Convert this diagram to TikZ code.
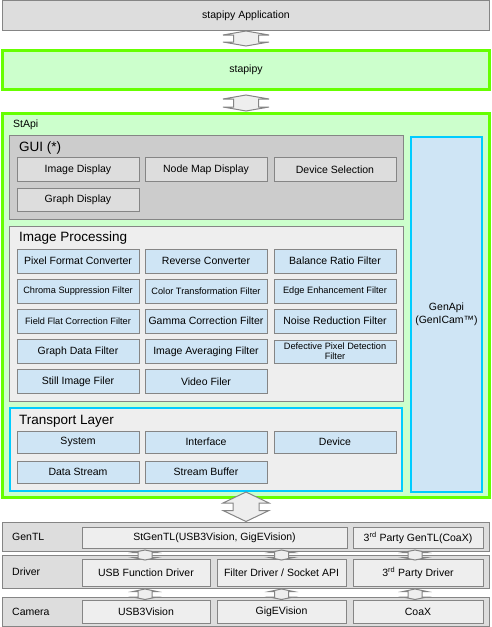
\documentclass[tikz,border=0pt]{standalone}
\usepackage{fontspec}
\setmainfont{Liberation Sans}
\usetikzlibrary{calc}

\definecolor{boxgray}{HTML}{DDDDDD}
\definecolor{guigray}{HTML}{CCCCCC}
\definecolor{panelgray}{HTML}{EEEEEE}
\definecolor{linegray}{HTML}{858585}
\definecolor{apigreen}{HTML}{66FF00}
\definecolor{apifill}{HTML}{CCFFCC}
\definecolor{tlcyan}{HTML}{00CCFF}
\definecolor{itemblue}{HTML}{CFE5F5}

% outlined double arrow: top tip, bottom tip, half head, half shaft, head length
\newcommand{\blockarrow}[5]{%
  \draw[arrowshape] let \p1=(#1), \p2=(#2) in
    (\x1,\y1) -- (\x1+#3,\y1-#5) -- (\x1+#4,\y1-#5) -- (\x1+#4,\y2+#5) -- (\x1+#3,\y2+#5)
    -- (\x1,\y2) -- (\x1-#3,\y2+#5) -- (\x1-#4,\y2+#5) -- (\x1-#4,\y1-#5) -- (\x1-#3,\y1-#5) -- cycle;}

\begin{document}
\begin{tikzpicture}[x=1pt, y=-1pt,
	every node/.style={inner sep=0pt, font=\fontsize{10.5}{13}\selectfont},
	layer/.style={draw=linegray, fill=boxgray, line width=1pt, minimum width=487},
	greenbox/.style={draw=apigreen, fill=apifill, line width=3pt, minimum width=487},
	panel/.style={draw=linegray, fill=panelgray, line width=1pt, minimum width=394},
	item/.style={draw=linegray, fill=itemblue, line width=1pt, minimum width=122, minimum height=24},
	smallitem/.style={item, font=\fontsize{9.2}{10}\selectfont},
	guiitem/.style={item, fill=boxgray, minimum height=23.5},
	lowitem/.style={item, fill=panelgray},
	title/.style={anchor=west, font=\fontsize{13.5}{15}\selectfont},
	rowlabel/.style={anchor=west},
	arrowshape/.style={draw=linegray, fill=panelgray, line width=1pt}]

				\useasboundingbox (0,0) rectangle (491,627);

				% Nodes
				\node[layer, minimum height=30] (app) at (246,15.5) {stapipy Application};
				\node[greenbox, minimum height=39] (py) at (246,70) {stapipy};
				\node[greenbox, minimum height=384] (stapi) at (246,305.5) {};
				\node[rowlabel] (stapilbl) at (13,125) {StApi};

				% GUI
				\node[panel, fill=guigray, minimum height=84] (gui) at (206,177) {};
				\node[title] (guilbl) at (19,148) {GUI (*)};
				\node[guiitem] (imgdisp) at (78,169.5) {Image Display};
				\node[guiitem] (nodemap) at (206,169.5) {Node Map Display};
				\node[guiitem] (devsel) at (335,169.5) {Device Selection};
				\node[guiitem] (graphdisp) at (78,200) {Graph Display};

				% Image Processing
				\node[panel, minimum height=175] (improc) at (206,313.5) {};
				\node[title] (improclbl) at (19,238) {Image Processing};
				\node[item] (pixfmt) at (78,261) {Pixel Format Converter};
				\node[item] (reverse) at (206,261) {Reverse Converter};
				\node[item] (balance) at (335,261) {Balance Ratio Filter};
				\node[smallitem] (chroma) at (78,291) {Chroma Suppression Filter};
				\node[smallitem] (colortf) at (206,291) {Color Transformation Filter};
				\node[smallitem] (edge) at (335,291) {Edge Enhancement Filter};
				\node[smallitem] (ffc) at (78,321) {Field Flat Correction Filter};
				\node[item] (gamma) at (206,321) {Gamma Correction Filter};
				\node[item] (noise) at (335,321) {Noise Reduction Filter};
				\node[item] (graphdata) at (78,351.5) {Graph Data Filter};
				\node[item] (averaging) at (206,351.5) {Image Averaging Filter};
				\node[smallitem, minimum height=23, align=center] (defect) at (335,351.5) {Defective Pixel Detection\\Filter};
				\node[item] (stillimg) at (78,381.5) {Still Image Filer};
				\node[item] (video) at (206,381.5) {Video Filer};

				% Transport Layer
				\node[panel, draw=tlcyan, line width=2pt, minimum width=392, minimum height=83] (tl) at (206,449.5) {};
				\node[title] (tllbl) at (19,421) {Transport Layer};
				\node[item, minimum height=22] (system) at (78,442) {System};
				\node[item, minimum height=22] (interface) at (206,442) {Interface};
				\node[item, minimum height=22] (device) at (335,442) {Device};
				\node[item, minimum height=22] (datastream) at (78,472) {Data Stream};
				\node[item, minimum height=22] (buffer) at (206,472) {Stream Buffer};

				% GenApi
				\node[item, draw=tlcyan, line width=2pt, minimum width=71, minimum height=355, align=center] (genapi) at (446.5,314.5) {GenApi\\(GenICam™)};

				% GenTL / Driver / Camera
				\node[layer, minimum height=29] (gentl) at (246,536.5) {};
				\node[rowlabel] (gentllbl) at (12,536.5) {GenTL};
				\node[lowitem, minimum width=265, minimum height=21] (stgentl) at (214.5,537.5) {StGenTL(USB3Vision, GigEVision)};
				\node[lowitem, minimum width=130, minimum height=21] (tpgentl) at (418,537.5) {3\textsuperscript{rd} Party GenTL(CoaX)};

				\node[layer, minimum height=33] (driver) at (246,572) {};
				\node[rowlabel] (driverlbl) at (12,572) {Driver};
				\node[lowitem, minimum width=128, minimum height=27] (usbdrv) at (146,572.5) {USB Function Driver};
				\node[lowitem, minimum width=129, minimum height=27] (sockdrv) at (281.5,572.5) {Filter Driver / Socket API};
				\node[lowitem, minimum width=130, minimum height=27] (tpdrv) at (418,572.5) {3\textsuperscript{rd} Party Driver};

				\node[layer, minimum height=29] (camera) at (246,611.5) {};
				\node[rowlabel] (cameralbl) at (12,611.5) {Camera};
				\node[lowitem, minimum width=128, minimum height=23] (usbcam) at (146,611.5) {USB3Vision};
				\node[lowitem, minimum width=129, minimum height=23] (gigecam) at (281.5,611.5) {GigEVision};
				\node[lowitem, minimum width=130, minimum height=23] (coaxcam) at (418,611.5) {CoaX};

				% Edges
				\blockarrow{app.south}{[yshift=3pt]py.north}{23pt}{12.5pt}{4pt}
				\blockarrow{[yshift=-4pt]py.south}{[yshift=1pt]stapi.north}{23pt}{12.5pt}{4pt}
				\blockarrow{[yshift=7pt]stapi.south}{gentl.north}{23pt}{13pt}{11pt}
				\foreach \d/\c/\s in {usbdrv/usbcam/-1, sockdrv/gigecam/0, tpdrv/coaxcam/-3} {
					\blockarrow{[xshift=\s pt, yshift=1.5pt]gentl.south -| \d.north}{[xshift=\s pt, yshift=-1.5pt]\d.north}{12pt}{7pt}{2.5pt}
					\blockarrow{[xshift=\s pt, yshift=-2.5pt]\d.south}{[xshift=\s pt]\c.north}{12pt}{7pt}{2.5pt}
				}
			\end{tikzpicture}
\end{document}
